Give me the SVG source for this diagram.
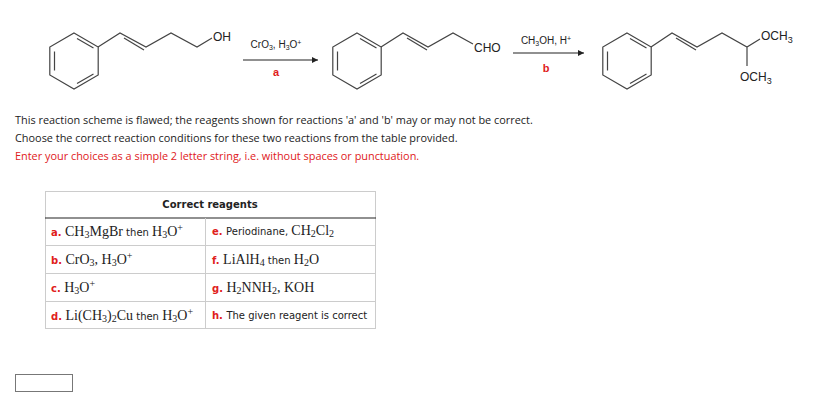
<svg xmlns="http://www.w3.org/2000/svg" width="818" height="410" viewBox="0 0 818 410">
<style>
.b{stroke:#444;stroke-width:1.2;fill:none}
.m{font-family:"Liberation Sans",Arial,sans-serif;font-size:12px;fill:#222}
.s{font-family:"Liberation Sans",Arial,sans-serif;font-size:10px;fill:#222}
.r{font-family:"Liberation Sans",Arial,sans-serif;font-size:11px;font-weight:bold;fill:#e0201b}
.p{font-family:"Open Sans",sans-serif;font-size:10.9px;fill:#222}
.t{font-family:"DejaVu Sans",sans-serif;font-size:10px;fill:#222}
.f{font-family:"Liberation Serif",serif;font-size:14px;fill:#222}
.l{font-family:"DejaVu Sans",sans-serif;font-size:10px;font-weight:bold;fill:#e0201b}
.g{stroke:#ccc;stroke-width:1}
</style>
<defs>
<marker id="ah" viewBox="0 0 10 10" refX="10" refY="5" markerWidth="8" markerHeight="6" orient="auto" markerUnits="userSpaceOnUse"><path d="M0,0L10,5L0,10z" fill="#222"/></marker>
<g id="bz"><polygon class="b" points="0,-28 24.2,-14 24.2,14 0,28 -24.2,14 -24.2,-14"/><path class="b" d="M-19.5,-9.5V9.5M3,-22.5L19.5,-13M3,22.5L19.5,13"/></g>
</defs>
<g id="m1"><use href="#bz" x="74" y="61"/><path class="b" d="M98,47L120,33L146,47L171,33L197,47L212,38"/><path class="b" d="M124,38L144,50"/><text class="m" x="213" y="41">OH</text></g>
<g id="m2"><use href="#bz" x="357" y="61"/><path class="b" d="M381,47L403,33L428,47L453,33L473,44"/><path class="b" d="M407,38L427,50"/><text class="m" x="474" y="52">CHO</text></g>
<g id="m3"><use href="#bz" x="627" y="61"/><path class="b" d="M651,47L672,33L697,47L722,33L747,47L760,39M747,47V66"/><path class="b" d="M676,38L696,50"/><text class="m" x="761" y="40">OCH<tspan font-size="9" dy="3">3</tspan></text><text class="m" x="740" y="81">OCH<tspan font-size="9" dy="3">3</tspan></text></g>
<g id="connectors">
<line x1="243" y1="60" x2="318" y2="60" stroke="#222" stroke-width="1.2" marker-end="url(#ah)"/>
<line x1="513" y1="53" x2="584" y2="53" stroke="#222" stroke-width="1.2" marker-end="url(#ah)"/>
</g>
<g id="labels">
<text class="s" x="276" y="48" text-anchor="middle">CrO<tspan font-size="7" dy="2">3</tspan><tspan dy="-2">, H</tspan><tspan font-size="7" dy="2">3</tspan><tspan dy="-2">O</tspan><tspan font-size="7" dy="-3">+</tspan></text>
<text class="r" x="276" y="76" text-anchor="middle">a</text>
<text class="s" x="546" y="44" text-anchor="middle">CH<tspan font-size="7" dy="2">3</tspan><tspan dy="-2">OH, H</tspan><tspan font-size="7" dy="-3">+</tspan></text>
<text class="r" x="546" y="72" text-anchor="middle">b</text>
</g>
<g id="para">
<text class="p" x="15" y="124">This reaction scheme is flawed; the reagents shown for reactions 'a' and 'b' may or may not be correct.</text>
<text class="p" x="15" y="142">Choose the correct reaction conditions for these two reactions from the table provided.</text>
<text class="p" x="15" y="160" style="fill:#e0201b">Enter your choices as a simple 2 letter string, i.e. without spaces or punctuation.</text>
</g>
<g id="table">
<rect x="45.5" y="191.5" width="330" height="137" fill="#fff" stroke="#ccc"/>
<line x1="45" y1="218" x2="376" y2="218" stroke="#222" stroke-width="1.2"/>
<line class="g" x1="45" y1="245.5" x2="376" y2="245.5"/>
<line class="g" x1="45" y1="273.5" x2="376" y2="273.5"/>
<line class="g" x1="45" y1="301.5" x2="376" y2="301.5"/>
<line class="g" x1="205.5" y1="218" x2="205.5" y2="329"/>
<text class="t" x="210" y="208" text-anchor="middle" font-weight="bold">Correct reagents</text>
<text x="51" y="236"><tspan class="l">a. </tspan><tspan class="f">CH<tspan font-size="10" dy="2">3</tspan><tspan dy="-2">MgBr</tspan></tspan><tspan class="t"> then </tspan><tspan class="f">H<tspan font-size="10" dy="2">3</tspan><tspan dy="-2">O</tspan><tspan font-size="10" dy="-5">+</tspan></tspan></text>
<text x="51" y="264"><tspan class="l">b. </tspan><tspan class="f">CrO<tspan font-size="10" dy="2">3</tspan><tspan dy="-2">, H</tspan><tspan font-size="10" dy="2">3</tspan><tspan dy="-2">O</tspan><tspan font-size="10" dy="-5">+</tspan></tspan></text>
<text x="51" y="292"><tspan class="l">c. </tspan><tspan class="f">H<tspan font-size="10" dy="2">3</tspan><tspan dy="-2">O</tspan><tspan font-size="10" dy="-5">+</tspan></tspan></text>
<text x="51" y="320"><tspan class="l">d. </tspan><tspan class="f">Li(CH<tspan font-size="10" dy="2">3</tspan><tspan dy="-2">)</tspan><tspan font-size="10" dy="2">2</tspan><tspan dy="-2">Cu</tspan></tspan><tspan class="t"> then </tspan><tspan class="f">H<tspan font-size="10" dy="2">3</tspan><tspan dy="-2">O</tspan><tspan font-size="10" dy="-5">+</tspan></tspan></text>
<text x="212" y="235"><tspan class="l">e. </tspan><tspan class="t">Periodinane, </tspan><tspan class="f">CH<tspan font-size="10" dy="2">2</tspan><tspan dy="-2">Cl</tspan><tspan font-size="10" dy="2">2</tspan></tspan></text>
<text x="212" y="264"><tspan class="l">f. </tspan><tspan class="f">LiAlH<tspan font-size="10" dy="2">4</tspan></tspan><tspan class="t" dy="-2"> then </tspan><tspan class="f">H<tspan font-size="10" dy="2">2</tspan><tspan dy="-2">O</tspan></tspan></text>
<text x="212" y="292"><tspan class="l">g. </tspan><tspan class="f">H<tspan font-size="10" dy="2">2</tspan><tspan dy="-2">NNH</tspan><tspan font-size="10" dy="2">2</tspan><tspan dy="-2">, KOH</tspan></tspan></text>
<text x="212" y="319"><tspan class="l">h. </tspan><tspan class="t">The given reagent is correct</tspan></text>
</g>
<rect id="input" x="15.5" y="374.5" width="57" height="17" fill="#fff" stroke="#777"/>
</svg>
